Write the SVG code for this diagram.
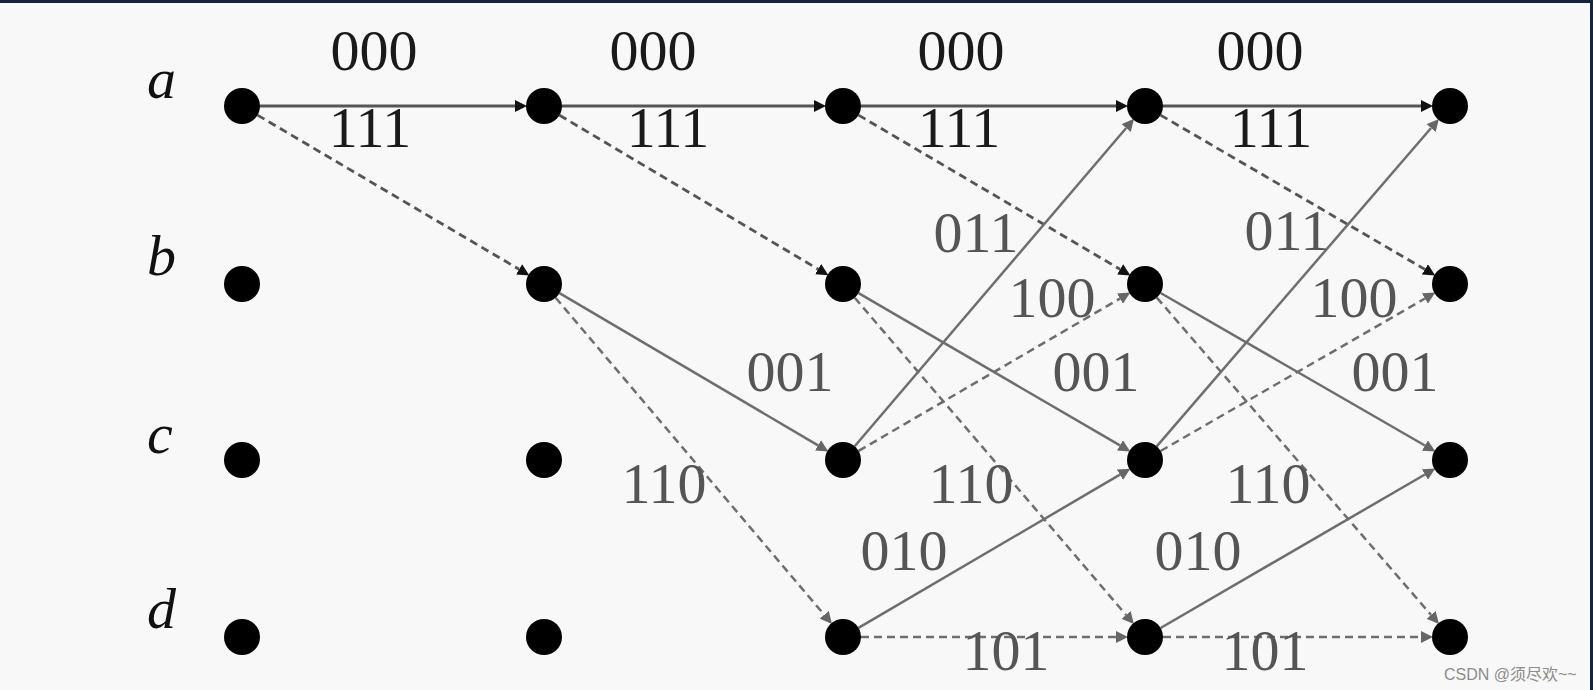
<svg xmlns="http://www.w3.org/2000/svg" width="1593" height="690" viewBox="0 0 1593 690">
<defs>
<style>
.dot{fill:#000}
.row{font-family:"Liberation Serif","Times New Roman",serif;font-style:italic;font-size:58px;fill:#111}
.lbl{font-family:"Liberation Serif","Times New Roman",serif;font-size:58px;text-anchor:middle;fill:#555}
.lbl.dk{fill:#1a1a1a}
.e{fill:none;stroke:#6e6e6e;stroke-width:2.5}
.e.dk{stroke:#555;stroke-width:2.8}
.e.da{stroke-dasharray:8 5}
.wm{font-family:"Liberation Sans","Noto Sans CJK SC",sans-serif;font-size:16px;fill:#8c8c8c}
</style>
<marker id="ak" markerWidth="12" markerHeight="12" refX="0" refY="6" orient="auto" markerUnits="userSpaceOnUse"><path d="M0,0 L12,6 L0,12 Z" fill="#111"/></marker>
<marker id="ag" markerWidth="12" markerHeight="12" refX="0" refY="6" orient="auto" markerUnits="userSpaceOnUse"><path d="M0,0 L12,6 L0,12 Z" fill="#666"/></marker>
</defs>
<rect x="0" y="0" width="1593" height="690" fill="#f8f8f8"/>
<rect x="0" y="0" width="1593" height="3" fill="#13243a"/>
<rect x="1590" y="0" width="3" height="690" fill="#13243a"/>

<g id="row-labels">
<text class="row" x="147" y="98">a</text>
<text class="row" x="147" y="275">b</text>
<text class="row" x="147" y="453">c</text>
<text class="row" x="147" y="628">d</text>
</g>

<g id="connectors">
<line class="e dk" x1="260" y1="106" x2="515" y2="106" marker-end="url(#ak)"/>
<line class="e dk" x1="562" y1="106" x2="814" y2="106" marker-end="url(#ak)"/>
<line class="e dk" x1="861" y1="106" x2="1116" y2="106" marker-end="url(#ak)"/>
<line class="e dk" x1="1163" y1="106" x2="1421" y2="106" marker-end="url(#ak)"/>

<line class="e dk da" x1="257.5" y1="115.1" x2="519.1" y2="269.3" marker-end="url(#ak)"/>
<line class="e dk da" x1="559.5" y1="115.2" x2="818.1" y2="269.2" marker-end="url(#ak)"/>
<line class="e dk da" x1="858.5" y1="115.1" x2="1120.1" y2="269.3" marker-end="url(#ak)"/>
<line class="e dk da" x1="1160.5" y1="115.1" x2="1424.9" y2="269.4" marker-end="url(#ak)"/>

<line class="e" x1="559.5" y1="293.1" x2="818.0" y2="445.3" marker-end="url(#ag)"/>
<line class="e" x1="858.6" y1="293.1" x2="1119.9" y2="445.4" marker-end="url(#ag)"/>
<line class="e" x1="1160.6" y1="293.0" x2="1424.9" y2="445.5" marker-end="url(#ag)"/>

<line class="e da" x1="555.6" y1="297.7" x2="824.2" y2="614.8" marker-end="url(#ag)"/>
<line class="e da" x1="854.7" y1="297.7" x2="1126.1" y2="615.0" marker-end="url(#ag)"/>
<line class="e da" x1="1156.8" y1="297.6" x2="1431.1" y2="615.0" marker-end="url(#ag)"/>

<line class="e" x1="854.7" y1="446.3" x2="1126.2" y2="128.0" marker-end="url(#ag)"/>
<line class="e" x1="1156.7" y1="446.4" x2="1431.1" y2="128.0" marker-end="url(#ag)"/>

<line class="e da" x1="858.6" y1="450.9" x2="1119.9" y2="298.6" marker-end="url(#ag)"/>
<line class="e da" x1="1160.6" y1="451.0" x2="1424.9" y2="298.5" marker-end="url(#ag)"/>

<line class="e" x1="858.5" y1="627.9" x2="1119.9" y2="474.7" marker-end="url(#ag)"/>
<line class="e" x1="1160.6" y1="628.0" x2="1424.9" y2="474.5" marker-end="url(#ag)"/>

<line class="e da" x1="861" y1="637" x2="1116" y2="637" marker-end="url(#ag)"/>
<line class="e da" x1="1163" y1="637" x2="1421" y2="637" marker-end="url(#ag)"/>
</g>

<g id="edge-labels">
<text class="lbl dk" x="374" y="70">000</text>
<text class="lbl dk" x="653" y="70">000</text>
<text class="lbl dk" x="961" y="70">000</text>
<text class="lbl dk" x="1260" y="70">000</text>
<text class="lbl dk" x="370" y="147">111</text>
<text class="lbl dk" x="668" y="147">111</text>
<text class="lbl dk" x="959" y="147">111</text>
<text class="lbl dk" x="1271" y="147">111</text>
<text class="lbl" x="976" y="252">011</text>
<text class="lbl" x="1287" y="250">011</text>
<text class="lbl" x="1052" y="317">100</text>
<text class="lbl" x="1354" y="317">100</text>
<text class="lbl" x="790" y="391">001</text>
<text class="lbl" x="1096" y="391">001</text>
<text class="lbl" x="1395" y="391">001</text>
<text class="lbl" x="664" y="503">110</text>
<text class="lbl" x="971" y="503">110</text>
<text class="lbl" x="1268" y="503">110</text>
<text class="lbl" x="904" y="570">010</text>
<text class="lbl" x="1198" y="570">010</text>
<text class="lbl" x="1006" y="670">101</text>
<text class="lbl" x="1265" y="670">101</text>
</g>

<g id="nodes">
<g id="a0"><circle class="dot" cx="242" cy="106" r="18"/></g>
<g id="a1"><circle class="dot" cx="544" cy="106" r="18"/></g>
<g id="a2"><circle class="dot" cx="843" cy="106" r="18"/></g>
<g id="a3"><circle class="dot" cx="1145" cy="106" r="18"/></g>
<g id="a4"><circle class="dot" cx="1450" cy="106" r="18"/></g>
<g id="b0"><circle class="dot" cx="242" cy="284" r="18"/></g>
<g id="b1"><circle class="dot" cx="544" cy="284" r="18"/></g>
<g id="b2"><circle class="dot" cx="843" cy="284" r="18"/></g>
<g id="b3"><circle class="dot" cx="1145" cy="284" r="18"/></g>
<g id="b4"><circle class="dot" cx="1450" cy="284" r="18"/></g>
<g id="c0"><circle class="dot" cx="242" cy="460" r="18"/></g>
<g id="c1"><circle class="dot" cx="544" cy="460" r="18"/></g>
<g id="c2"><circle class="dot" cx="843" cy="460" r="18"/></g>
<g id="c3"><circle class="dot" cx="1145" cy="460" r="18"/></g>
<g id="c4"><circle class="dot" cx="1450" cy="460" r="18"/></g>
<g id="d0"><circle class="dot" cx="242" cy="637" r="18"/></g>
<g id="d1"><circle class="dot" cx="544" cy="637" r="18"/></g>
<g id="d2"><circle class="dot" cx="843" cy="637" r="18"/></g>
<g id="d3"><circle class="dot" cx="1145" cy="637" r="18"/></g>
<g id="d4"><circle class="dot" cx="1450" cy="637" r="18"/></g>
</g>

<text class="wm" x="1444" y="680">CSDN @须尽欢~~</text>
</svg>
